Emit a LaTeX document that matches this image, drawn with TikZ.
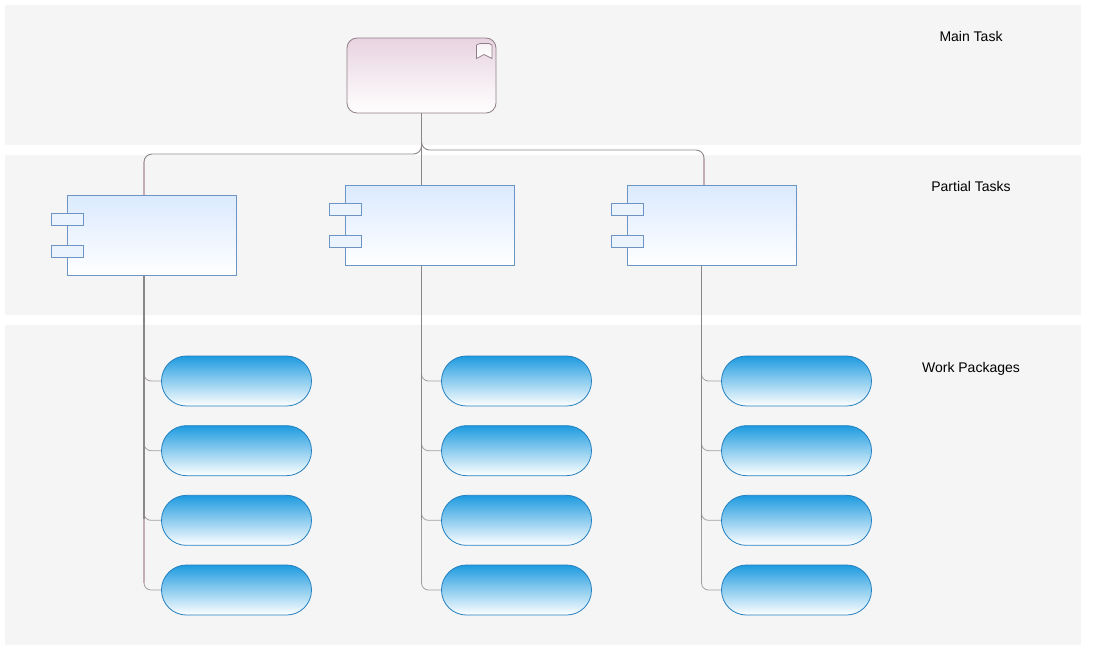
\documentclass[tikz,border=0pt]{standalone}
\usepackage{fontspec}
\setmainfont{Liberation Sans}
\usetikzlibrary{positioning}
\definecolor{bandgray}{HTML}{F5F5F5}
\definecolor{wiregray}{HTML}{8C8787}
\definecolor{wirepink}{HTML}{C4AEBA}
\definecolor{mainedge}{HTML}{8F7F88}
\definecolor{mainfill}{HTML}{E8D3E0}
\definecolor{partedge}{HTML}{6C94C4}
\definecolor{partfill}{HTML}{DBEAFF}
\definecolor{packedge}{HTML}{2280C0}
\definecolor{packfill}{HTML}{1E9BE0}

\begin{document}
\begin{tikzpicture}[x=1pt,y=-1pt,node distance=69.67pt]
\tikzstyle{band}=[fill=bandgray,draw=none]
\tikzstyle{caption}=[font=\fontsize{14}{16}\selectfont,text=black,anchor=base]
\tikzstyle{maintask}=[rectangle,rounded corners=10pt,draw=mainedge,line width=0.8pt,top color=mainfill,bottom color=white,minimum width=149pt,minimum height=75pt,inner sep=0pt]
\tikzstyle{parttask}=[rectangle,draw=partedge,line width=0.8pt,top color=partfill,bottom color=white,minimum width=169pt,minimum height=80pt,inner sep=0pt]
\tikzstyle{port}=[rectangle,draw=partedge,line width=0.8pt,fill=partfill!55!white,minimum width=32pt,minimum height=12pt,inner sep=0pt]
\tikzstyle{package}=[rectangle,rounded corners=24.9pt,draw=packedge,line width=0.8pt,top color=packfill,bottom color=white,minimum width=150pt,minimum height=50pt,inner sep=0pt]
\tikzstyle{wire}=[draw=wiregray,line width=0.9pt,rounded corners=8pt]
\tikzstyle{branch}=[draw=wiregray!80!white,line width=0.8pt,rounded corners=7pt]
\tikzstyle{pinkwire}=[draw=wirepink,line width=1.3pt]

\useasboundingbox (0,0) rectangle (1097,651);

% bands
\fill[band] (5,5) rectangle (1081,145);
\fill[band] (5,155) rectangle (1081,315);
\fill[band] (5,325) rectangle (1081,645);

\node[caption] (lmain) at (971,41) {Main Task};
\node[caption] (lpart) at (971,191) {Partial Tasks};
\node[caption] (lwork) at (971,372) {Work Packages};

% tasks
\node[maintask] (main) at (421.5,75.5) {};
\node[parttask] (p1) at (152,235.5) {};
\node[parttask] (p2) at (429.5,225.5) {};
\node[parttask] (p3) at (712,225.5) {};

% bookmark in the main task
\draw[draw=mainedge,line width=0.7pt,top color=mainfill!30!white,bottom color=white] (476.5,45) -- (480,43.5) -- (489,43.5) -- (492,45) -- (492,58.5) -- (484,54.5) -- (476.5,58.5) -- cycle;

% ports
\foreach \p/\x/\y in {p1/67.5/219.5, p2/345/209.5, p3/627.5/209.5} {
  \node[port] (\p a) at (\x,\y) {};
  \node[port,below=19.5pt of \p a] (\p b) {};
}

% work packages
\foreach \c/\x in {a/236.5, b/516.5, c/796.5} {
  \node[package] (\c1) at (\x,381) {};
  \node[package] (\c2) [below of = \c1] {};
  \node[package] (\c3) [below of = \c2] {};
  \node[package] (\c4) [below of = \c3] {};
}

% wires from the main task
\coordinate (jl) at (144,154);
\coordinate (jr) at (704,150);
\coordinate (pinkl) at (144,162);
\coordinate (pinkr) at (704,158);
\coordinate (pinka) at (144,519);
\coordinate (pinkb) at (144,583);
\draw[wire] (main.south) -- ([xshift=-8pt]p2.north);
\draw[wire] (main.south) |- (jl) -- ([xshift=-8pt]p1.north);
\draw[wire] (main.south) |- (jr) -- ([xshift=-8pt]p3.north);
\draw[pinkwire] (pinkl) -- ([xshift=-8pt]p1.north);
\draw[pinkwire] (pinkr) -- ([xshift=-8pt]p3.north);

% wires to the work packages
\foreach \c/\p/\s in {a/p1/8, b/p2/8, c/p3/10.5} {
  \foreach \i in {1,2,3,4}
    \draw[branch] ([xshift=-\s pt]\p.south) |- (\c\i.west);
  \draw[wire] ([xshift=-\s pt]\p.south) -- ([xshift=-\s pt]\p.south |- \c3.west);
}
\draw[wire,line width=1.1pt] ([xshift=-8pt]p1.south) -- (pinka);
\draw[pinkwire] (pinka) -- (pinkb);
\end{tikzpicture}
\end{document}
